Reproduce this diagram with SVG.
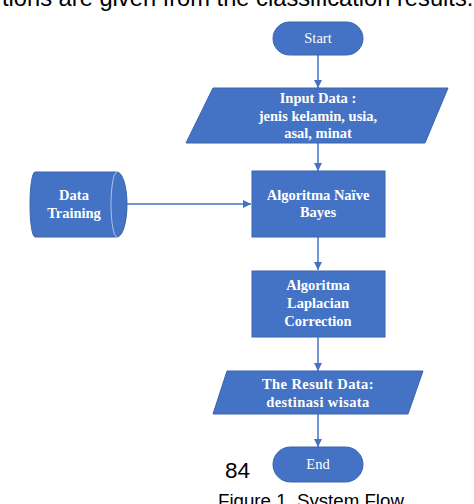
<svg xmlns="http://www.w3.org/2000/svg" width="474" height="504" viewBox="0 0 474 504">
  <defs>
    <marker id="arrow" viewBox="0 0 10 10" refX="10" refY="5" markerWidth="5.5" markerHeight="5.5" markerUnits="strokeWidth" orient="auto">
      <path d="M0,0 L10,5 L0,10 z" fill="#4472C4"/>
    </marker>
    <style>
      .shape { fill: #4472C4; stroke: #3B64AE; stroke-width: 1; }
      .conn { fill: none; stroke: #4472C4; stroke-width: 1.5; marker-end: url(#arrow); }
      .lbl { font-family: "Liberation Serif", "Times New Roman", serif; font-size: 14.5px; font-weight: bold; fill: #FFFFFF; text-anchor: middle; }
      .lblr { font-family: "Liberation Serif", "Times New Roman", serif; font-size: 14.5px; fill: #FFFFFF; text-anchor: middle; }
      .page { font-family: "Liberation Sans", Arial, sans-serif; fill: #000000; }
    </style>
  </defs>
  <rect width="474" height="504" fill="#FFFFFF"/>

  <text class="page" x="2" y="6" font-size="23.7">tions are given from the classification results.</text>

  <g id="connectors">
    <line class="conn" x1="318" y1="55" x2="318" y2="88"/>
    <line class="conn" x1="318" y1="143" x2="318" y2="171"/>
    <line class="conn" x1="127" y1="204" x2="251" y2="204"/>
    <line class="conn" x1="318" y1="237" x2="318" y2="270"/>
    <line class="conn" x1="318" y1="337" x2="318" y2="371"/>
    <line class="conn" x1="318" y1="414" x2="318" y2="447"/>
  </g>

  <g id="start">
    <rect class="shape" x="273" y="22" width="90" height="33" rx="16.5" ry="16.5"/>
    <text class="lblr" x="318" y="43">Start</text>
  </g>

  <g id="input-data">
    <polygon class="shape" points="213,88 448,88 425,143 186,143"/>
    <text class="lbl" x="318" y="103">Input Data :</text>
    <text class="lbl" x="318" y="121">jenis kelamin, usia,</text>
    <text class="lbl" x="318" y="138">asal, minat</text>
  </g>

  <g id="data-training">
    <path class="shape" d="M35,172 L117,172 A10,32.5 0 0 1 117,237 L35,237 A5,32.5 0 0 1 35,172 Z"/>
    <path d="M117,172 A6,32.5 0 0 0 117,237" fill="none" stroke="#C9D6EE" stroke-width="0.8"/>
    <text class="lbl" x="74" y="200">Data</text>
    <text class="lbl" x="74" y="218">Training</text>
  </g>

  <g id="naive-bayes">
    <rect class="shape" x="252" y="171" width="133" height="66"/>
    <text class="lbl" x="318" y="200">Algoritma Naïve</text>
    <text class="lbl" x="318" y="217">Bayes</text>
  </g>

  <g id="laplacian">
    <rect class="shape" x="252" y="271" width="133" height="66"/>
    <text class="lbl" x="318" y="290">Algoritma</text>
    <text class="lbl" x="318" y="308">Laplacian</text>
    <text class="lbl" x="318" y="326">Correction</text>
  </g>

  <g id="result-data">
    <polygon class="shape" points="227,371 423,371 408,414 213,414"/>
    <text class="lbl" x="318" y="389" letter-spacing="0.4">The Result Data:</text>
    <text class="lbl" x="318" y="407" letter-spacing="0.4">destinasi wisata</text>
  </g>

  <g id="end">
    <rect class="shape" x="273" y="447" width="90" height="35" rx="17.5" ry="17.5"/>
    <text class="lblr" x="318" y="469">End</text>
  </g>

  <text class="page" x="225" y="478" font-size="22.5">84</text>
  <text class="page" x="218" y="507" font-size="18.7">Figure 1. System Flow</text>
</svg>
